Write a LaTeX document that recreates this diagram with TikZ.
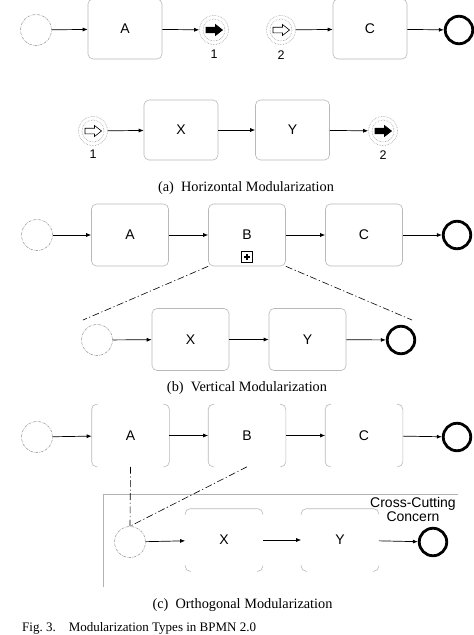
\documentclass[tikz,border=0pt]{standalone}
\usepackage{fontspec}
\setmainfont{Liberation Serif}
\setsansfont{Liberation Sans}
\usetikzlibrary{arrows.meta}
\tikzset{
  linkarrow/.pic={\path[pic actions, line width=0.6pt]
     (-8,-2.8) -- (1.5,-2.8) -- (1.5,-5.5) -- (8.5,0) -- (1.5,5.5) -- (1.5,2.8) -- (-8,2.8) -- cycle;}
}
\begin{document}
\begin{tikzpicture}[x=1pt,y=-1pt,
  lbl/.style={font=\sffamily\fontsize{14}{16}\selectfont},
  box/.style={draw=gray!55, line width=0.6pt, rounded corners=5pt, minimum width=77pt, minimum height=62pt, inner sep=0pt, lbl},
  boxa/.style={box, minimum width=74pt, minimum height=60pt},
  ghost/.style={box, draw=none},
  boxline/.style={draw=gray!55, line width=0.6pt, rounded corners=5pt},
  startev/.style={circle, draw=gray!75, line width=0.6pt, dash pattern=on 2.5pt off 1pt on 0.6pt off 1pt, minimum size=31pt, inner sep=0pt},
  endev/.style={circle, draw=black, line width=2.8pt, minimum size=27.5pt, inner sep=0pt},
  linkev/.style={circle, draw=gray!75, line width=0.6pt, densely dotted, minimum size=29pt, inner sep=0pt},
  linkinner/.style={draw=gray!75, line width=0.6pt, densely dotted},
  flow/.style={draw=black, line width=0.7pt, -{Latex[length=5pt,width=4pt]}},
  dashdot/.style={draw=black, line width=0.6pt, dash pattern=on 7pt off 2.5pt on 1.2pt off 2.5pt},
  num/.style={font=\sffamily\fontsize{12.5}{14}\selectfont, inner sep=0pt},
  capt/.style={font=\fontsize{14.3}{16}\selectfont, inner sep=0pt},
]
\useasboundingbox (0,0) rectangle (474,635);
\clip (0,0) rectangle (474,635);
\fill[white] (0,0) rectangle (474,635);

% ---------------- (a) Horizontal ----------------
\node[startev] (s1) at (36,30) {};
\node[boxa] (a1) at (125,29) {A};
\node[linkev] (t1) at (214,30) {};
\draw[linkinner] (t1.center) circle[radius=11];
\pic[draw=black, fill=black] at (t1.center) {linkarrow};
\node[num] (n1) at (214,54) {1};
\node[linkev] (c2) at (281,30) {};
\draw[linkinner] (c2.center) circle[radius=11];
\pic[draw=black, fill=white] at (c2.center) {linkarrow};
\node[num] (n2) at (281,55) {2};
\node[boxa] (cc1) at (370,29) {C};
\node[endev] (e1) at (459,30) {};
\draw[flow] (s1) -- (a1);
\draw[flow] (a1) -- (t1);
\draw[flow] (c2) -- (cc1);
\draw[flow] (cc1) -- (e1);

\node[linkev] (c1) at (93,131) {};
\draw[linkinner] (c1.center) circle[radius=11];
\pic[draw=black, fill=white] at (c1.center) {linkarrow};
\node[num] (n3) at (93,154) {1};
\node[boxa] (x1) at (181,130) {X};
\node[boxa] (y1) at (292.5,130) {Y};
\node[linkev] (t2) at (383,131) {};
\draw[linkinner] (t2.center) circle[radius=11];
\pic[draw=black, fill=black] at (t2.center) {linkarrow};
\node[num] (n4) at (383,155) {2};
\draw[flow] (c1) -- (x1);
\draw[flow] (x1) -- (y1);
\draw[flow] (y1) -- (t2);

\node[capt] (capa) at (246,188) {(a)\ \ Horizontal\ Modularization};

% ---------------- (b) Vertical ----------------
\node[startev] (s2) at (37,235) {};
\node[box] (a2) at (130,235) {A};
\node[box] (b2) at (247,235) {B};
\node[box] (cc2) at (364,235) {C};
\node[endev] (e2) at (457,235) {};
\node[draw=black, line width=0.8pt, minimum size=11pt, inner sep=0pt] (plus) at (247,257) {};
\draw[line width=1.3pt] ([xshift=-3pt]plus.center) -- ([xshift=3pt]plus.center);
\draw[line width=1.3pt] ([yshift=-3pt]plus.center) -- ([yshift=3pt]plus.center);
\draw[flow] (s2) -- (a2);
\draw[flow] (a2) -- (b2);
\draw[flow] (b2) -- (cc2);
\draw[flow] (cc2) -- (e2);

\coordinate (dl) at (83,320);
\coordinate (dr) at (412,320);
\draw[dashdot] (b2.south west) -- (dl);
\draw[dashdot] (b2.south east) -- (dr);

\node[startev] (s3) at (97,340) {};
\node[box] (x2) at (190.5,339.5) {X};
\node[box] (y2) at (307.5,339.5) {Y};
\node[endev] (e3) at (401,340) {};
\draw[flow] (s3) -- (x2);
\draw[flow] (x2) -- (y2);
\draw[flow] (y2) -- (e3);

\node[capt] (capb) at (247,388) {(b)\ \ Vertical\ Modularization};

% ---------------- (c) Orthogonal ----------------
\node[startev] (s4) at (37,437) {};
\node[ghost] (a3) at (130.5,435.5) {A};
\node[ghost] (b3) at (247,435.5) {B};
\node[ghost] (cc3) at (364,435.5) {C};
\node[endev] (e4) at (457,437) {};
\foreach \n in {a3,b3,cc3}{
  \draw[boxline] ([xshift=6pt]\n.north west) -- (\n.north west) -- (\n.south west) -- ([xshift=6pt]\n.south west);
  \draw[boxline] ([xshift=-6pt]\n.north east) -- (\n.north east) -- (\n.south east) -- ([xshift=-6pt]\n.south east);
}
\draw[flow] (s4) -- (a3);
\draw[flow] (a3) -- (b3);
\draw[flow] (b3) -- (cc3);
\draw[flow] (cc3) -- (e4);

\coordinate (ltr) at (458,494);
\coordinate (ltl) at (103,494);
\coordinate (lbl) at (103,587);
\draw[draw=gray!60, line width=0.7pt] (ltr) -- (ltl) -- (lbl);

\node[startev] (s5) at (130,542) {};
\node[ghost] (x3) at (224,540) {X};
\node[ghost] (y3) at (340,540) {Y};
\node[endev] (e5) at (433,542) {};
\foreach \n in {x3,y3}{
  \draw[boxline] ([yshift=-6pt]\n.north west) -- (\n.north west) -- (\n.north east) -- ([yshift=-6pt]\n.north east);
  \draw[boxline] ([yshift=6pt]\n.south west) -- (\n.south west) -- ([xshift=6pt]\n.south west);
  \draw[boxline] ([yshift=6pt]\n.south east) -- (\n.south east) -- ([xshift=-6pt]\n.south east);
}
\draw[flow] (s5) -- (x3);
\draw[flow] (x3) -- (y3);
\draw[flow] (y3) -- (e5);

\draw[dashdot] (a3.south) -- (s5.north);
\draw[dashdot] (b3.south) -- (s5.north);

\node[lbl, align=center, inner sep=0pt] (ccc) at (413,509.5) {Cross-Cutting\\[-2pt]Concern};

\node[capt] (capc) at (242.5,605) {(c)\ \ Orthogonal\ Modularization};

\node[anchor=south west, font=\fontsize{13}{14}\selectfont, inner sep=0pt] (fig) at (22,634.5) {Fig.~3.\quad Modularization Types in BPMN 2.0};
\end{tikzpicture}
\end{document}
